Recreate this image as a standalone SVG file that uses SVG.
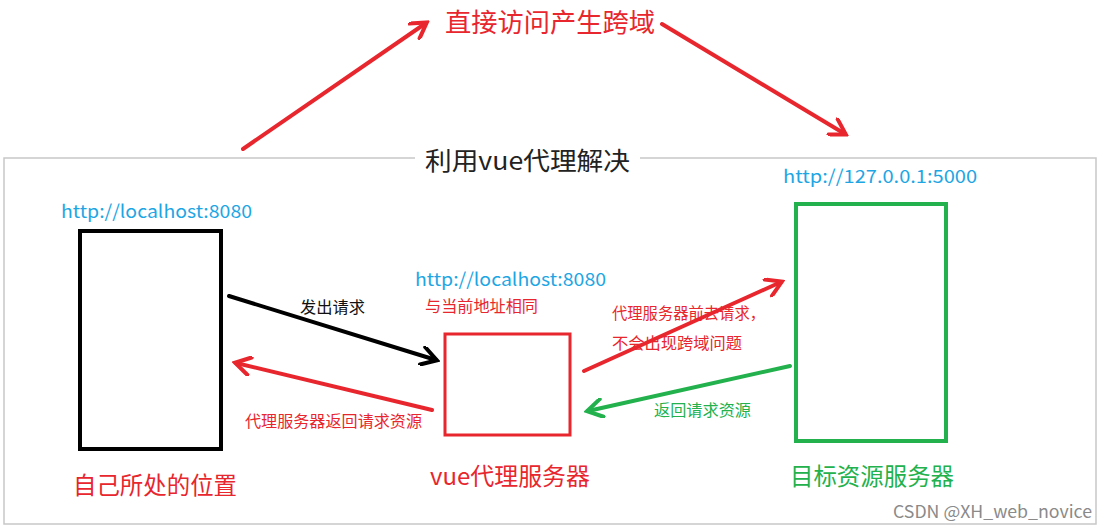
<svg xmlns="http://www.w3.org/2000/svg" width="1107" height="530" viewBox="0 0 1107 530">
<defs>
<style>
text{font-family:"Microsoft YaHei","Noto Sans CJK SC","Liberation Sans",sans-serif}
.url{fill:#1ea6e4;font-size:18px}
.red{fill:#e8262d}
.grn{fill:#22b14c}
.lbl{font-size:16px}
.big{font-size:23.5px}
.ln{fill:none;stroke-width:4;stroke-linecap:round}
</style>
<marker id="arR" viewBox="0 0 20 20" refX="16" refY="10" markerWidth="20" markerHeight="20" markerUnits="userSpaceOnUse" orient="auto">
<path d="M2,1 L17,10 L2,19" fill="none" stroke="#e8262d" stroke-width="4" stroke-linecap="round"/>
</marker>
<marker id="arK" viewBox="0 0 20 20" refX="16" refY="10" markerWidth="20" markerHeight="20" markerUnits="userSpaceOnUse" orient="auto">
<path d="M2,1 L17,10 L2,19" fill="none" stroke="#000" stroke-width="4" stroke-linecap="round"/>
</marker>
<marker id="arG" viewBox="0 0 20 20" refX="16" refY="10" markerWidth="20" markerHeight="20" markerUnits="userSpaceOnUse" orient="auto">
<path d="M2,1 L17,10 L2,19" fill="none" stroke="#22b14c" stroke-width="4" stroke-linecap="round"/>
</marker>
</defs>
<rect width="1107" height="530" fill="#fff"/>
<g id="frame">
<path d="M415,158 L4,158 L4,524 L1096,524 L1096,158 L640,158" fill="none" stroke="#c8c8c8" stroke-width="1.5"/>
<text x="425" y="170" font-size="25" fill="#222" textLength="205" lengthAdjust="spacingAndGlyphs">利用vue代理解决</text>
</g>
<g id="top-label">
<text x="445" y="32" font-size="26" class="red" textLength="210" lengthAdjust="spacingAndGlyphs">直接访问产生跨域</text>
</g>
<g id="node-self">
<rect x="80" y="231" width="141" height="218" fill="none" stroke="#000" stroke-width="4"/>
<text x="61" y="218" class="url" textLength="191" lengthAdjust="spacingAndGlyphs">http://localhost:8080</text>
<text x="73" y="494" class="big red" textLength="164" lengthAdjust="spacingAndGlyphs">自己所处的位置</text>
</g>
<g id="node-proxy">
<rect x="445" y="334" width="125" height="101" fill="none" stroke="#e8262d" stroke-width="3"/>
<text x="415" y="286" class="url" textLength="191" lengthAdjust="spacingAndGlyphs">http://localhost:8080</text>
<text x="425" y="312" class="lbl red" textLength="113" lengthAdjust="spacingAndGlyphs">与当前地址相同</text>
<text x="430" y="485" class="big red" textLength="160" lengthAdjust="spacingAndGlyphs">vue代理服务器</text>
</g>
<g id="node-target">
<rect x="796" y="204" width="150" height="237" fill="none" stroke="#22b14c" stroke-width="4"/>
<text x="783" y="183" class="url" textLength="194" lengthAdjust="spacingAndGlyphs">http://127.0.0.1:5000</text>
<text x="790" y="485" class="big grn" textLength="164" lengthAdjust="spacingAndGlyphs">目标资源服务器</text>
</g>
<g id="connectors">
<line x1="243" y1="149" x2="426" y2="23" class="ln" stroke="#e8262d" marker-end="url(#arR)"/>
<line x1="662" y1="24" x2="845" y2="134" class="ln" stroke="#e8262d" marker-end="url(#arR)"/>
<line x1="229" y1="296" x2="436" y2="360" class="ln" stroke="#000" marker-end="url(#arK)"/>
<line x1="432" y1="410" x2="236" y2="363" class="ln" stroke="#e8262d" marker-end="url(#arR)"/>
<line x1="584" y1="371" x2="781" y2="282" class="ln" stroke="#e8262d" marker-end="url(#arR)"/>
<line x1="790" y1="366" x2="588" y2="411" class="ln" stroke="#22b14c" marker-end="url(#arG)"/>
<text x="300" y="313" class="lbl" fill="#111" textLength="65" lengthAdjust="spacingAndGlyphs">发出请求</text>
<text x="245" y="427" class="lbl red" textLength="177" lengthAdjust="spacingAndGlyphs">代理服务器返回请求资源</text>
<text x="612" y="319" class="lbl red" textLength="153" lengthAdjust="spacingAndGlyphs">代理服务器前去请求，</text>
<text x="612" y="349" class="lbl red" textLength="130" lengthAdjust="spacingAndGlyphs">不会出现跨域问题</text>
<text x="654" y="416" class="lbl grn" textLength="97" lengthAdjust="spacingAndGlyphs">返回请求资源</text>
</g>
<text x="893" y="518" font-size="17" fill="#8a8a8a" textLength="199" lengthAdjust="spacingAndGlyphs">CSDN @XH_web_novice</text>
</svg>
